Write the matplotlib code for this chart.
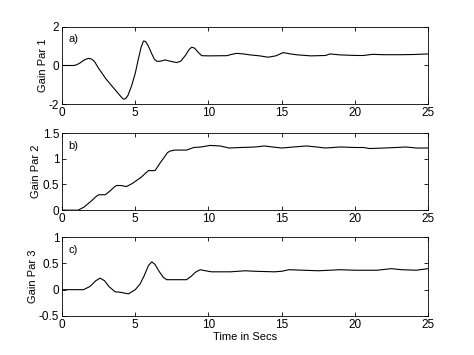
import matplotlib
matplotlib.use("Agg")
import matplotlib.pyplot as plt

plt.rcParams["font.family"] = ["Liberation Sans", "DejaVu Sans"]
plt.rcParams["font.size"] = 8

# a) Gain Par 1
t1 = [0, 0.8, 1.0, 1.2, 1.5, 1.78, 2.0, 2.2, 2.5, 3.0, 3.5, 4.0, 4.19, 4.35, 4.5, 4.75, 5.0,
      5.2, 5.4, 5.56, 5.7, 5.9, 6.1, 6.3, 6.47, 6.7, 7.03, 7.4, 7.83, 8.1, 8.4, 8.7, 8.86,
      9.05, 9.3, 9.54, 10.0, 11.25, 11.6, 11.93, 12.4, 12.84, 13.5, 14.07, 14.6, 14.9, 15.1,
      15.4, 15.6, 16.1, 17.0, 18.0, 18.3, 19.0, 20.1, 20.6, 21.2, 22.0, 23.0, 24.0, 25.0]
g1 = [0, 0, 0.04, 0.12, 0.28, 0.37, 0.34, 0.22, -0.15, -0.7, -1.15, -1.6, -1.75, -1.72, -1.55, -1.05, -0.4,
      0.3, 0.95, 1.27, 1.25, 1.0, 0.65, 0.33, 0.22, 0.22, 0.29, 0.22, 0.15, 0.22, 0.5, 0.85, 0.95,
      0.9, 0.68, 0.51, 0.5, 0.51, 0.58, 0.63, 0.6, 0.55, 0.5, 0.43, 0.5, 0.6, 0.67,
      0.63, 0.6, 0.55, 0.5, 0.52, 0.6, 0.55, 0.52, 0.52, 0.58, 0.56, 0.56, 0.57, 0.6]

# b) Gain Par 2
t2 = [0, 1.1, 1.5, 2.0, 2.3, 2.5, 2.95, 3.3, 3.6, 3.73, 4.0, 4.4, 4.8, 5.4, 5.7, 5.9, 6.35,
      6.7, 7.03, 7.2, 7.37, 7.7, 8.5, 8.8, 9.0, 9.5, 10.1, 10.8, 11.4, 12.2, 13.2, 13.8,
      14.4, 15.0, 15.8, 16.7, 17.4, 18.0, 19.0, 20.0, 20.6, 21.0, 22.0, 22.8, 23.5, 24.2, 25.0]
g2 = [0, 0, 0.06, 0.18, 0.26, 0.3, 0.3, 0.38, 0.46, 0.48, 0.48, 0.46, 0.52, 0.64, 0.72, 0.77, 0.77,
      0.92, 1.05, 1.12, 1.15, 1.17, 1.17, 1.2, 1.22, 1.23, 1.26, 1.25, 1.21, 1.22, 1.23, 1.25,
      1.23, 1.21, 1.23, 1.25, 1.23, 1.21, 1.23, 1.22, 1.22, 1.2, 1.21, 1.22, 1.23, 1.21, 1.21]

# c) Gain Par 3
t3 = [0, 1.46, 1.9, 2.3, 2.6, 2.9, 3.2, 3.62, 4.0, 4.53, 5.0, 5.33, 5.6, 5.9, 6.13, 6.35,
      6.6, 6.9, 7.14, 8.0, 8.5, 8.8, 9.1, 9.43, 9.8, 10.2, 11.5, 12.5, 13.2, 14.5, 15.0,
      15.5, 16.5, 17.5, 19.0, 20.0, 21.5, 22.5, 23.2, 24.2, 25.0]
g3 = [0, 0, 0.06, 0.17, 0.22, 0.17, 0.06, -0.04, -0.05, -0.08, 0.0, 0.11, 0.26, 0.46, 0.53, 0.48,
      0.36, 0.24, 0.19, 0.19, 0.19, 0.25, 0.33, 0.38, 0.36, 0.34, 0.34, 0.36, 0.35, 0.34, 0.35,
      0.38, 0.37, 0.36, 0.38, 0.37, 0.37, 0.4, 0.38, 0.37, 0.4]

fig = plt.figure(figsize=(4.74, 3.55), dpi=100)

panels = [
    ([0.131, 0.707, 0.772, 0.217], t1, g1, (-2, 2), [-2, 0, 2], ["-2", "0", "2"], "Gain Par 1", "a)"),
    ([0.131, 0.408, 0.772, 0.217], t2, g2, (0, 1.5), [0, 0.5, 1, 1.5], ["0", "0.5", "1", "1.5"], "Gain Par 2", "b)"),
    ([0.131, 0.110, 0.772, 0.222], t3, g3, (-0.5, 1), [-0.5, 0, 0.5, 1], ["-0.5", "0", "0.5", "1"], "Gain Par 3", "c)"),
]

for rect, t, g, ylim, yt, ytl, ylab, tag in panels:
    ax = fig.add_axes(rect)
    ax.plot(t, g, color="black", linewidth=0.8)
    ax.set_xlim(0, 25)
    ax.set_ylim(*ylim)
    ax.set_xticks([0, 5, 10, 15, 20, 25])
    ax.set_yticks(yt)
    ax.set_yticklabels(ytl)
    ax.tick_params(direction="in", top=True, right=True, length=3, width=0.6, pad=2,
                   labelsize=8.5)
    for s in ax.spines.values():
        s.set_linewidth(0.6)
    ax.set_ylabel(ylab, labelpad=1)
    ax.text(0.018, 0.8, tag, transform=ax.transAxes, fontsize=8)

ax.set_xlabel("Time in Secs", labelpad=1)

fig.savefig("out.png", dpi=100)
